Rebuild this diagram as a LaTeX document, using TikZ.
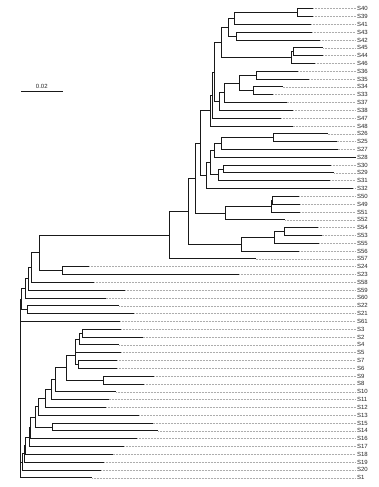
\documentclass[tikz,border=0pt]{standalone}
\usepackage{fontspec}
\setmainfont{Liberation Sans}
\begin{document}
\begin{tikzpicture}[x=1pt,y=-7.817pt,
  branch/.style={line width=0.8pt, black!90, line join=miter},
  guide/.style={black!32, line width=0.45pt, dash pattern=on 0.5pt off 1pt},
  leaflabel/.style={anchor=west, inner sep=0pt, font=\fontsize{6}{7}\selectfont, text=black!85},
  scalelabel/.style={anchor=center, inner sep=0pt, font=\fontsize{6}{7}\selectfont, text=black!85}]
\useasboundingbox (0,-1.113) rectangle (379,61.187);

% leaves: index / name / end x
\foreach \i/\nm/\xx in {
 0/S40/313.3, 1/S39/313.3, 2/S41/311, 3/S43/312, 4/S42/320, 5/S45/323.3,
 6/S44/323.3, 7/S46/315, 8/S36/298, 9/S35/309.3, 10/S34/282.7, 11/S33/273.3,
 12/S37/286.7, 13/S38/293.3, 14/S47/281, 15/S48/292.7, 16/S26/327.7, 17/S25/336.7,
 18/S27/337.7, 19/S28/355.5, 20/S30/331, 21/S29/334.3, 22/S31/330, 23/S32/353.3,
 24/S50/299.3, 25/S49/300, 26/S51/300, 27/S52/285, 28/S54/318.3, 29/S53/321.7,
 30/S55/319.3, 31/S56/299, 32/S57/255.7, 33/S24/89.3, 34/S23/239.3, 35/S58/94.3,
 36/S59/125, 37/S60/105.7, 38/S22/119, 39/S21/134, 40/S61/120, 41/S3/121,
 42/S2/142.7, 43/S4/119.3, 44/S5/121, 45/S7/117.3, 46/S6/117.3, 47/S9/154,
 48/S8/144.3, 49/S10/116, 50/S11/108.7, 51/S12/106, 52/S13/139.3, 53/S15/152.7,
 54/S14/158, 55/S16/137.3, 56/S17/124, 57/S18/112.7, 58/S19/104, 59/S20/101, 60/S1/92}
{
  \coordinate (\nm) at (\xx,\i);
  \coordinate (e\nm) at (355.5,\i);
  \draw[guide] (\nm) -- (e\nm);
  \node[leaflabel] (t\nm) at (356.8,\i) {\nm};
}

% internal nodes
\coordinate (a1) at (297.7,0.5);
\coordinate (a2) at (234,1.25);
\coordinate (a3) at (236,3.5);
\coordinate (a4) at (228.3,2.375);
\coordinate (a5) at (293.7,5.5);
\coordinate (a6) at (291,6.25);
\coordinate (a7) at (221.7,4.3125);
\coordinate (b1) at (256.7,8.5);
\coordinate (b2) at (253.3,10.5);
\coordinate (b3) at (239.3,9.5);
\coordinate (b4) at (224.3,10.75);
\coordinate (b5) at (219,11.875);
\coordinate (c1) at (214,8.09375);
\coordinate (c2) at (212.3,11.047);
\coordinate (c3) at (210,13.02);
\coordinate (d1) at (273.3,16.5);
\coordinate (d2) at (221,17.25);
\coordinate (d3) at (214,18.125);
\coordinate (d4) at (223.3,20.5);
\coordinate (d5) at (218.3,21.25);
\coordinate (d6) at (210.7,19.6875);
\coordinate (d7) at (206,21.34);
\coordinate (nX) at (200,17.18);
\coordinate (e1) at (272,24.5);
\coordinate (e2) at (271,25.25);
\coordinate (e3) at (225.7,26.125);
\coordinate (nY) at (195,21.65);
\coordinate (f1) at (284,28.5);
\coordinate (f2) at (274,29.25);
\coordinate (f3) at (241.7,30.125);
\coordinate (nZ) at (188.3,25.89);
\coordinate (nW) at (169,28.94);
\coordinate (g1) at (62.7,33.5);
\coordinate (nV) at (39.3,31.22);
\coordinate (nU) at (31,33.11);
\coordinate (nT) at (28.3,34.55);
\coordinate (nT2) at (25.7,35.78);
\coordinate (h1) at (27.3,38.5);
\coordinate (q1) at (21.3,37.14);
\coordinate (i1) at (82.3,41.5);
\coordinate (i2) at (79.3,42.25);
\coordinate (i3) at (75.7,43.125);
\coordinate (i4) at (78.3,45.5);
\coordinate (i5) at (75,44.31);
\coordinate (i6) at (103,47.5);
\coordinate (i7) at (66,45.91);
\coordinate (i8) at (55,47.45);
\coordinate (i9) at (51.3,48.73);
\coordinate (i10) at (45.3,49.86);
\coordinate (i11) at (38.3,50.93);
\coordinate (j1) at (52.7,53.5);
\coordinate (i12) at (35.7,52.22);
\coordinate (i13) at (30.7,53.61);
\coordinate (i14) at (29,54.8);
\coordinate (i15) at (25,55.9);
\coordinate (i16) at (24,56.95);
\coordinate (i17) at (22,57.98);
\coordinate (root) at (20.7,48.57);

% branches parent/child
\foreach \p/\c in {
 a1/S40, a1/S39, a2/a1, a2/S41, a3/S43, a3/S42, a4/a2, a4/a3,
 a5/S45, a5/S44, a6/a5, a6/S46, a7/a4, a7/a6,
 b1/S36, b1/S35, b2/S34, b2/S33, b3/b1, b3/b2, b4/b3, b4/S37, b5/b4, b5/S38,
 c1/a7, c1/b5, c2/c1, c2/S47, c3/c2, c3/S48,
 d1/S26, d1/S25, d2/d1, d2/S27, d3/d2, d3/S28, d4/S30, d4/S29, d5/d4, d5/S31,
 d6/d3, d6/d5, d7/d6, d7/S32, nX/c3, nX/d7,
 e1/S50, e1/S49, e2/e1, e2/S51, e3/e2, e3/S52, nY/nX, nY/e3,
 f1/S54, f1/S53, f2/f1, f2/S55, f3/f2, f3/S56, nZ/nY, nZ/f3,
 nW/nZ, nW/S57, g1/S24, g1/S23, nV/nW, nV/g1, nU/nV, nU/S58,
 nT/nU, nT/S59, nT2/nT, nT2/S60, h1/S22, h1/S21, q1/nT2, q1/h1,
 i1/S3, i1/S2, i2/i1, i2/S4, i3/i2, i3/S5, i4/S7, i4/S6, i5/i3, i5/i4,
 i6/S9, i6/S8, i7/i5, i7/i6, i8/i7, i8/S10, i9/i8, i9/S11, i10/i9, i10/S12,
 i11/i10, i11/S13, j1/S15, j1/S14, i12/i11, i12/j1, i13/i12, i13/S16,
 i14/i13, i14/S17, i15/i14, i15/S18, i16/i15, i16/S19, i17/i16, i17/S20,
 root/q1, root/S61, root/i17, root/S1}
{
  \draw[branch] (\p) |- (\c);
}

% scale bar
\coordinate (sb1) at (21,10.62);
\coordinate (sb2) at (62.7,10.62);
\draw[branch] (sb1) -- (sb2);
\node[scalelabel] (sbl) at (41.8,9.98) {0.02};
\end{tikzpicture}
\end{document}
